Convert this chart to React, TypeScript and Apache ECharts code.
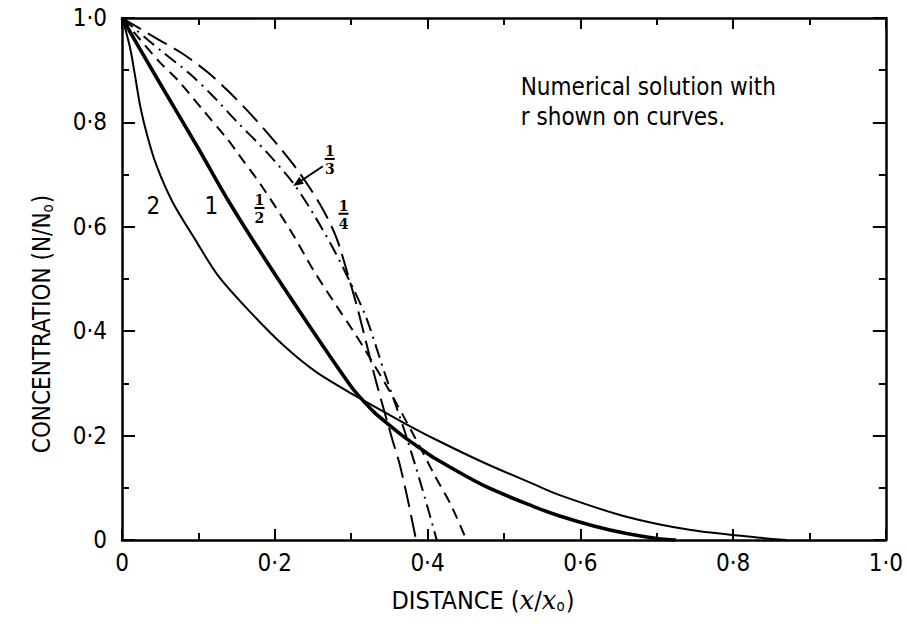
import React, { useEffect, useRef } from "react";
import * as echarts from "echarts";

// Axis range and tick spacing (x = x/x0, y = N/N0)
const AXIS_MIN = 0;
const AXIS_MAX = 1;
const TICK_STEP = 0.2;

// Concentration profiles for each value of r, as [x/x0, N/N0]
const CURVE_R2: [number, number][] = [
  [0, 1], [0.005, 0.975], [0.011, 0.94], [0.017, 0.89], [0.024, 0.83], [0.033, 0.775],
  [0.045, 0.718], [0.066, 0.648], [0.096, 0.575], [0.126, 0.506], [0.169, 0.435],
  [0.212, 0.372], [0.255, 0.321], [0.307, 0.275], [0.367, 0.226], [0.41, 0.193],
  [0.474, 0.148], [0.539, 0.107], [0.573, 0.086], [0.659, 0.045], [0.745, 0.019],
  [0.831, 0.005], [0.87, 0],
];

const CURVE_R1: [number, number][] = [
  [0, 1], [0.05, 0.874], [0.1, 0.75], [0.14, 0.648], [0.19, 0.532], [0.25, 0.4],
  [0.298, 0.298], [0.31, 0.276], [0.33, 0.245], [0.35, 0.22], [0.367, 0.2],
  [0.39, 0.176], [0.41, 0.156], [0.474, 0.104], [0.539, 0.064], [0.573, 0.046],
  [0.62, 0.026], [0.659, 0.013], [0.7, 0.003], [0.725, 0],
];

const CURVE_R_HALF: [number, number][] = [
  [0, 1], [0.02, 0.965], [0.049, 0.916], [0.073, 0.881], [0.107, 0.822], [0.139, 0.766],
  [0.152, 0.74], [0.182, 0.68], [0.221, 0.592], [0.251, 0.516], [0.281, 0.448],
  [0.302, 0.402], [0.315, 0.372], [0.35, 0.286], [0.384, 0.195], [0.41, 0.122],
  [0.431, 0.066], [0.451, 0],
];

const CURVE_R_THIRD: [number, number][] = [
  [0, 1], [0.034, 0.958], [0.053, 0.935], [0.088, 0.894], [0.118, 0.852], [0.15, 0.802],
  [0.19, 0.742], [0.225, 0.682], [0.25, 0.626], [0.277, 0.557], [0.302, 0.484],
  [0.32, 0.425], [0.345, 0.315], [0.369, 0.213], [0.385, 0.138], [0.401, 0.058],
  [0.412, 0],
];

const CURVE_R_QUARTER: [number, number][] = [
  [0, 1], [0.045, 0.961], [0.079, 0.932], [0.113, 0.895], [0.139, 0.86], [0.169, 0.815],
  [0.199, 0.765], [0.225, 0.718], [0.247, 0.672], [0.265, 0.628], [0.281, 0.578],
  [0.295, 0.512], [0.309, 0.44], [0.332, 0.307], [0.354, 0.192], [0.363, 0.148],
  [0.373, 0.085], [0.385, 0],
];

// Curve tags placed in data coordinates
const TAG_R2 = { text: "2", at: [0.041, 0.64] };
const TAG_R1 = { text: "1", at: [0.117, 0.64] };
const TAG_HALF = { num: "1", den: "2", at: [0.18, 0.636] };
const TAG_THIRD = { num: "1", den: "3", at: [0.272, 0.73] };
const TAG_QUARTER = { num: "1", den: "4", at: [0.29, 0.625] };
const ARROW_THIRD = { from: [0.263, 0.716], to: [0.224, 0.678] };
const NOTE_LINES = ["Numerical solution with", "r shown on curves."];
const NOTE_AT = [0.522, 0.868];

const FONT = "'DejaVu Sans Condensed', 'DejaVu Sans', sans-serif";
const SERIF = "'DejaVu Serif', 'Liberation Serif', serif";
const INK = "#000";

const tickLabel = (v: number) => (v === 0 ? "0" : v.toFixed(1).replace(".", "\u00b7"));

function makeAxis(kind: "x" | "y", position: string, labels: boolean) {
  return {
    type: "value",
    position,
    min: AXIS_MIN,
    max: AXIS_MAX,
    interval: TICK_STEP,
    splitLine: { show: false },
    axisLine: { show: true, onZero: false, lineStyle: { color: INK, width: 2.5 } },
    axisTick: { show: true, inside: true, length: kind === "y" ? 13 : 11, lineStyle: { color: INK, width: 2 } },
    minorTick: { show: true, splitNumber: 2, length: 7, lineStyle: { color: INK, width: 2 } },
    axisLabel: {
      show: labels,
      formatter: tickLabel,
      color: INK,
      fontSize: 24,
      fontFamily: FONT,
      margin: kind === "y" ? 15 : 11,
    },
  };
}

function curve(name: string, data: [number, number][], width: number, type: any) {
  return {
    name,
    type: "line",
    data,
    showSymbol: false,
    smooth: 0.3,
    lineStyle: { color: INK, width, type, cap: "butt" },
    z: 3,
  };
}

export default function App() {
  const ref = useRef<HTMLDivElement>(null);

  useEffect(() => {
    const chart = echarts.init(ref.current!, null, { renderer: "svg" });
    chart.setOption({
      animation: false,
      backgroundColor: "#fff",
      grid: { left: 122, right: 8, top: 18, bottom: 86 },
      xAxis: [makeAxis("x", "bottom", true), makeAxis("x", "top", false)],
      yAxis: [makeAxis("y", "left", true), makeAxis("y", "right", false)],
      series: [
        curve("r = 2", CURVE_R2, 2, "solid"),
        curve("r = 1", CURVE_R1, 3.6, "solid"),
        curve("r = 1/2", CURVE_R_HALF, 2, [11, 7]),
        curve("r = 1/3", CURVE_R_THIRD, 2, [14, 6, 2, 6]),
        curve("r = 1/4", CURVE_R_QUARTER, 2, [22, 8]),
      ],
    });

    const px = (p: number[]) => chart.convertToPixel({ xAxisIndex: 0, yAxisIndex: 0 }, p) as number[];

    const plainTag = (t: { text: string; at: number[] }) => {
      const [x, y] = px(t.at);
      return {
        type: "text",
        x,
        y,
        style: { text: t.text, fill: INK, font: `24px ${FONT}`, align: "center", verticalAlign: "middle" },
      };
    };

    const fraction = (t: { num: string; den: string; at: number[] }) => {
      const [x, y] = px(t.at);
      const font = `bold 14px ${SERIF}`;
      return {
        type: "group",
        x,
        y,
        children: [
          { type: "text", x: 0, y: -8, style: { text: t.num, fill: INK, font, align: "center", verticalAlign: "middle" } },
          { type: "line", shape: { x1: -5, y1: 0, x2: 5, y2: 0 }, style: { stroke: INK, lineWidth: 2 } },
          { type: "text", x: 0, y: 10, style: { text: t.den, fill: INK, font, align: "center", verticalAlign: "middle" } },
        ],
      };
    };

    const [ax1, ay1] = px(ARROW_THIRD.from);
    const [ax2, ay2] = px(ARROW_THIRD.to);
    const ang = Math.atan2(ay2 - ay1, ax2 - ax1);
    const head = 11;
    const spread = 0.38;
    const arrowHead = [
      [ax2, ay2],
      [ax2 - head * Math.cos(ang - spread), ay2 - head * Math.sin(ang - spread)],
      [ax2 - head * Math.cos(ang + spread), ay2 - head * Math.sin(ang + spread)],
    ];

    const [nx, ny] = px(NOTE_AT);
    const grid = { left: 122, right: 898, top: 18, bottom: 540 };

    chart.setOption({
      graphic: [
        plainTag(TAG_R2),
        plainTag(TAG_R1),
        fraction(TAG_HALF),
        fraction(TAG_THIRD),
        fraction(TAG_QUARTER),
        {
          type: "line",
          shape: { x1: ax1, y1: ay1, x2: ax2 + 6 * Math.cos(ang + Math.PI), y2: ay2 + 6 * Math.sin(ang + Math.PI) },
          style: { stroke: INK, lineWidth: 2 },
        },
        { type: "polygon", shape: { points: arrowHead }, style: { fill: INK } },
        ...NOTE_LINES.map((line, i) => ({
          type: "text",
          x: nx,
          y: ny + i * 30,
          style: { text: line, fill: INK, font: `24px ${FONT}`, align: "left", verticalAlign: "middle" },
        })),
        {
          type: "text",
          x: (grid.left + grid.right) / 2 - 27,
          y: 600,
          style: {
            text: "{a|DISTANCE (}{i|x}{a|/}{i|x}{s|o}{a|)}",
            align: "center",
            verticalAlign: "middle",
            rich: {
              a: { fontSize: 25, fontFamily: FONT, fill: INK },
              i: { fontSize: 26, fontFamily: SERIF, fontStyle: "italic", fill: INK },
              s: { fontSize: 15, fontFamily: FONT, fill: INK, padding: [12, 1, 0, 0] },
            },
          },
        },
        {
          type: "text",
          x: 42,
          y: 324,
          rotation: Math.PI / 2,
          style: {
            text: "{a|CONCENTRATION (N/N}{s|o}{a|)}",
            align: "center",
            verticalAlign: "middle",
            rich: {
              a: { fontSize: 24, fontFamily: FONT, fill: INK },
              s: { fontSize: 15, fontFamily: FONT, fill: INK, padding: [12, 1, 0, 0] },
            },
          },
        },
      ],
    });

    return () => chart.dispose();
  }, []);

  return <div ref={ref} style={{ position: "absolute", left: 0, top: 0, width: 906, height: 626 }} />;
}
